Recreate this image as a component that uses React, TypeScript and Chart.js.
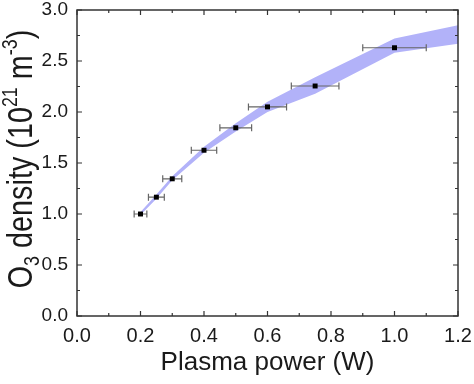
import { useEffect, useRef } from 'react';
import { Chart, registerables } from 'chart.js';

Chart.register(...registerables);

// Measured data points (plasma power in W, O3 density in 1e21 m^-3)
const powerW = [0.2, 0.25, 0.3, 0.4, 0.5, 0.6, 0.75, 1.0];
const o3Density = [1.0, 1.165, 1.345, 1.625, 1.845, 2.05, 2.255, 2.63];
const powerErr = [0.02, 0.025, 0.03, 0.04, 0.05, 0.06, 0.075, 0.1];

// Shaded model band
const bandX = [0.2, 0.25, 0.3, 0.4, 0.5, 0.6, 0.75, 1.0, 1.2];
const bandUpper = [1.02, 1.19, 1.37, 1.66, 1.89, 2.1, 2.34, 2.72, 2.85];
const bandLower = [0.99, 1.15, 1.33, 1.6, 1.81, 2.0, 2.18, 2.58, 2.67];

// Axis ticks
const xTicks = [0, 0.2, 0.4, 0.6, 0.8, 1.0, 1.2];
const xMinorTicks = [0.1, 0.3, 0.5, 0.7, 0.9, 1.1];
const yTicks = [0, 0.5, 1.0, 1.5, 2.0, 2.5, 3.0];
const yMinorTicks = [0.25, 0.75, 1.25, 1.75, 2.25, 2.75];

const xTitle = 'Plasma power (W)';
const yTitleParts = [
  { t: 'O', s: 1, dy: 0 },
  { t: '3', s: 0.62, dy: 0.2 },
  { t: ' density (10', s: 1, dy: 0 },
  { t: '21', s: 0.62, dy: -0.42 },
  { t: ' m', s: 1, dy: 0 },
  { t: '-3', s: 0.62, dy: -0.42 },
  { t: ')', s: 1, dy: 0 },
];

const FONT = "'Liberation Sans', Arial, sans-serif";
const TEXT = '#1a1a1a';
const AXIS = '#333333';

const errorBarPlugin = {
  id: 'errorBars',
  beforeDatasetDraw(chart: any, args: any) {
    if (args.index !== 2) return;
    const { ctx, scales } = chart;
    const xs = scales.x;
    const ys = scales.y;
    ctx.save();
    ctx.strokeStyle = '#666666';
    ctx.lineWidth = 1.2;
    for (let i = 0; i < powerW.length; i++) {
      const x1 = xs.getPixelForValue(powerW[i] - powerErr[i]);
      const x2 = xs.getPixelForValue(powerW[i] + powerErr[i]);
      const y = ys.getPixelForValue(o3Density[i]);
      ctx.beginPath();
      ctx.moveTo(x1, y);
      ctx.lineTo(x2, y);
      ctx.moveTo(x1, y - 3.5);
      ctx.lineTo(x1, y + 3.5);
      ctx.moveTo(x2, y - 3.5);
      ctx.lineTo(x2, y + 3.5);
      ctx.stroke();
    }
    ctx.restore();
  },
};

const framePlugin = {
  id: 'frame',
  afterDatasetsDraw(chart: any) {
    const { ctx, chartArea: a, scales } = chart;
    const xs = scales.x;
    const ys = scales.y;
    ctx.save();
    ctx.strokeStyle = AXIS;
    ctx.lineWidth = 1.5;
    ctx.strokeRect(a.left, a.top, a.right - a.left, a.bottom - a.top);
    ctx.lineWidth = 1.2;
    ctx.beginPath();
    const xt = (vals: number[], len: number) => {
      vals.forEach((v) => {
        const px = xs.getPixelForValue(v);
        ctx.moveTo(px, a.bottom);
        ctx.lineTo(px, a.bottom - len);
        ctx.moveTo(px, a.top);
        ctx.lineTo(px, a.top + len);
      });
    };
    const yt = (vals: number[], len: number) => {
      vals.forEach((v) => {
        const py = ys.getPixelForValue(v);
        ctx.moveTo(a.left, py);
        ctx.lineTo(a.left + len, py);
        ctx.moveTo(a.right, py);
        ctx.lineTo(a.right - len, py);
      });
    };
    xt(xTicks, 5);
    xt(xMinorTicks, 3);
    yt(yTicks, 5);
    yt(yMinorTicks, 3);
    ctx.stroke();
    ctx.restore();
  },
  afterDraw(chart: any) {
    const { ctx, chartArea: a } = chart;
    ctx.save();
    ctx.fillStyle = TEXT;
    // X title
    ctx.font = `26px ${FONT}`;
    ctx.textAlign = 'center';
    ctx.textBaseline = 'alphabetic';
    ctx.fillText(xTitle, (a.left + a.right) / 2, 370);
    // Y title with sub/superscripts
    const F = 28.8;
    ctx.translate(32, (a.top + a.bottom) / 2 - 4);
    ctx.rotate(-Math.PI / 2);
    ctx.scale(1, 1.2);
    ctx.textAlign = 'left';
    let total = 0;
    const widths = yTitleParts.map((p) => {
      ctx.font = `${(F * p.s).toFixed(1)}px ${FONT}`;
      const w = ctx.measureText(p.t).width;
      total += w;
      return w;
    });
    let x = -total / 2;
    yTitleParts.forEach((p, i) => {
      ctx.font = `${(F * p.s).toFixed(1)}px ${FONT}`;
      ctx.fillText(p.t, x, p.dy * F);
      x += widths[i];
    });
    ctx.restore();
  },
};

export default function App() {
  const ref = useRef<HTMLCanvasElement>(null);
  useEffect(() => {
    if (!ref.current) return;
    const chart = new Chart(ref.current, {
      type: 'scatter',
      data: {
        datasets: [
          {
            label: 'lower',
            data: bandX.map((x, i) => ({ x, y: bandLower[i] })),
            showLine: true,
            borderWidth: 0,
            borderColor: 'rgba(0,0,0,0)',
            pointRadius: 0,
            fill: false,
            order: 2,
          },
          {
            label: 'upper',
            data: bandX.map((x, i) => ({ x, y: bandUpper[i] })),
            showLine: true,
            borderWidth: 0,
            borderColor: 'rgba(0,0,0,0)',
            backgroundColor: 'rgb(178,178,249)',
            pointRadius: 0,
            fill: '-1',
            order: 1,
          },
          {
            label: 'O3 density',
            data: powerW.map((x, i) => ({ x, y: o3Density[i] })),
            pointStyle: 'rect',
            pointRadius: 3.5,
            backgroundColor: '#000000',
            borderColor: '#000000',
            borderWidth: 0,
            order: 0,
          },
        ],
      },
      options: {
        animation: false,
        responsive: false,
        layout: { padding: { top: 10, right: 16, left: 0, bottom: 0 } },
        plugins: {
          legend: { display: false },
          tooltip: { enabled: false },
        },
        scales: {
          x: {
            type: 'linear',
            min: 0,
            max: 1.2,
            grid: { display: false, drawTicks: false },
            border: { display: false },
            afterBuildTicks: (s: any) => {
              s.ticks = xTicks.map((v) => ({ value: v }));
            },
            afterFit: (s: any) => {
              s.height = 68;
              s.paddingLeft = 0;
              s.paddingRight = 0;
            },
            ticks: {
              padding: 8,
              color: TEXT,
              font: { family: FONT, size: 20 },
              maxRotation: 0,
              autoSkip: false,
              callback: (v: any) => Number(v).toFixed(1),
            },
          },
          y: {
            type: 'linear',
            min: 0,
            max: 3,
            grid: { display: false, drawTicks: false },
            border: { display: false },
            afterBuildTicks: (s: any) => {
              s.ticks = yTicks.map((v) => ({ value: v }));
            },
            afterFit: (s: any) => {
              s.width = 77;
              s.paddingTop = 0;
              s.paddingBottom = 0;
            },
            ticks: {
              padding: 9,
              color: TEXT,
              font: { family: FONT, size: 19 },
              autoSkip: false,
              callback: (v: any) => Number(v).toFixed(1),
            },
          },
        },
      },
      plugins: [errorBarPlugin, framePlugin],
    });
    return () => chart.destroy();
  }, []);
  return (
    <div style={{ position: 'absolute', left: 0, top: 0, width: 474, height: 384, background: '#fff' }}>
      <canvas ref={ref} width={474} height={384} />
    </div>
  );
}
